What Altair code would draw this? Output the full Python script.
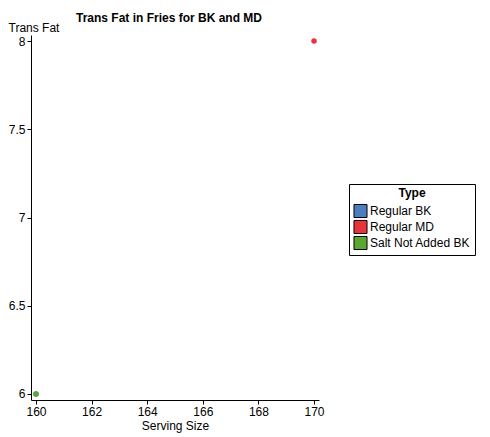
import altair as alt
import pandas as pd

types = ["Regular BK", "Regular MD", "Salt Not Added BK"]
serving_size = [160, 170, 160]
trans_fat = [6, 8, 6]
colors = ["#4a7ebf", "#e8333c", "#5aa832"]

df = pd.DataFrame({"Type": types, "Serving Size": serving_size, "Trans Fat": trans_fat})

FONT = "Liberation Sans"

chart = alt.Chart(df).mark_circle(size=30, opacity=1).encode(
    x=alt.X("Serving Size:Q",
            scale=alt.Scale(domain=[159.82, 170.18], nice=False, zero=False),
            axis=alt.Axis(values=[160, 162, 164, 166, 168, 170], grid=False,
                          title="Serving Size", titlePadding=3)),
    y=alt.Y("Trans Fat:Q",
            scale=alt.Scale(domain=[5.966, 8.034], nice=False, zero=False),
            axis=alt.Axis(values=[6, 6.5, 7, 7.5, 8], grid=False, format="~g",
                          title="Trans Fat", titleAngle=0, titleAlign="left",
                          titleBaseline="alphabetic", titleX=-23, titleY=-4)),
    color=alt.Color("Type:N",
                    scale=alt.Scale(domain=types, range=colors),
                    legend=alt.Legend(orient="none", legendX=318, legendY=149,
                                      symbolType="square", symbolSize=170,
                                      symbolStrokeColor="black", symbolStrokeWidth=1,
                                      symbolOpacity=1,
                                      strokeColor="black", padding=4,
                                      titleAnchor="middle", rowPadding=0,
                                      clipHeight=16, titlePadding=3,
                                      labelOffset=2)),
).properties(
    width=288,
    height=365,
    background="white",
    title=alt.TitleParams("Trans Fat in Fries for BK and MD", anchor="start", dx=68,
                          dy=7, offset=3, fontSize=12, font=FONT, fontWeight="bold",
                          color="black"),
    autosize=alt.AutoSizeParams(type="none"),
    padding={"left": 23, "top": 27, "right": 160, "bottom": 34},
).configure_view(stroke=None).configure_axis(
    labelFont=FONT, titleFont=FONT, labelFontSize=12, titleFontSize=12,
    titleFontWeight="normal", labelColor="black", titleColor="black",
    domainColor="black", tickColor="black", tickSize=4, labelPadding=2,
    domainWidth=1, tickWidth=1,
).configure_legend(
    labelFont=FONT, titleFont=FONT, labelFontSize=12, titleFontSize=12,
    labelColor="black", titleColor="black", titleFontWeight="bold",
)

chart.save("out.html", embed_options={"renderer": "svg", "actions": False})
